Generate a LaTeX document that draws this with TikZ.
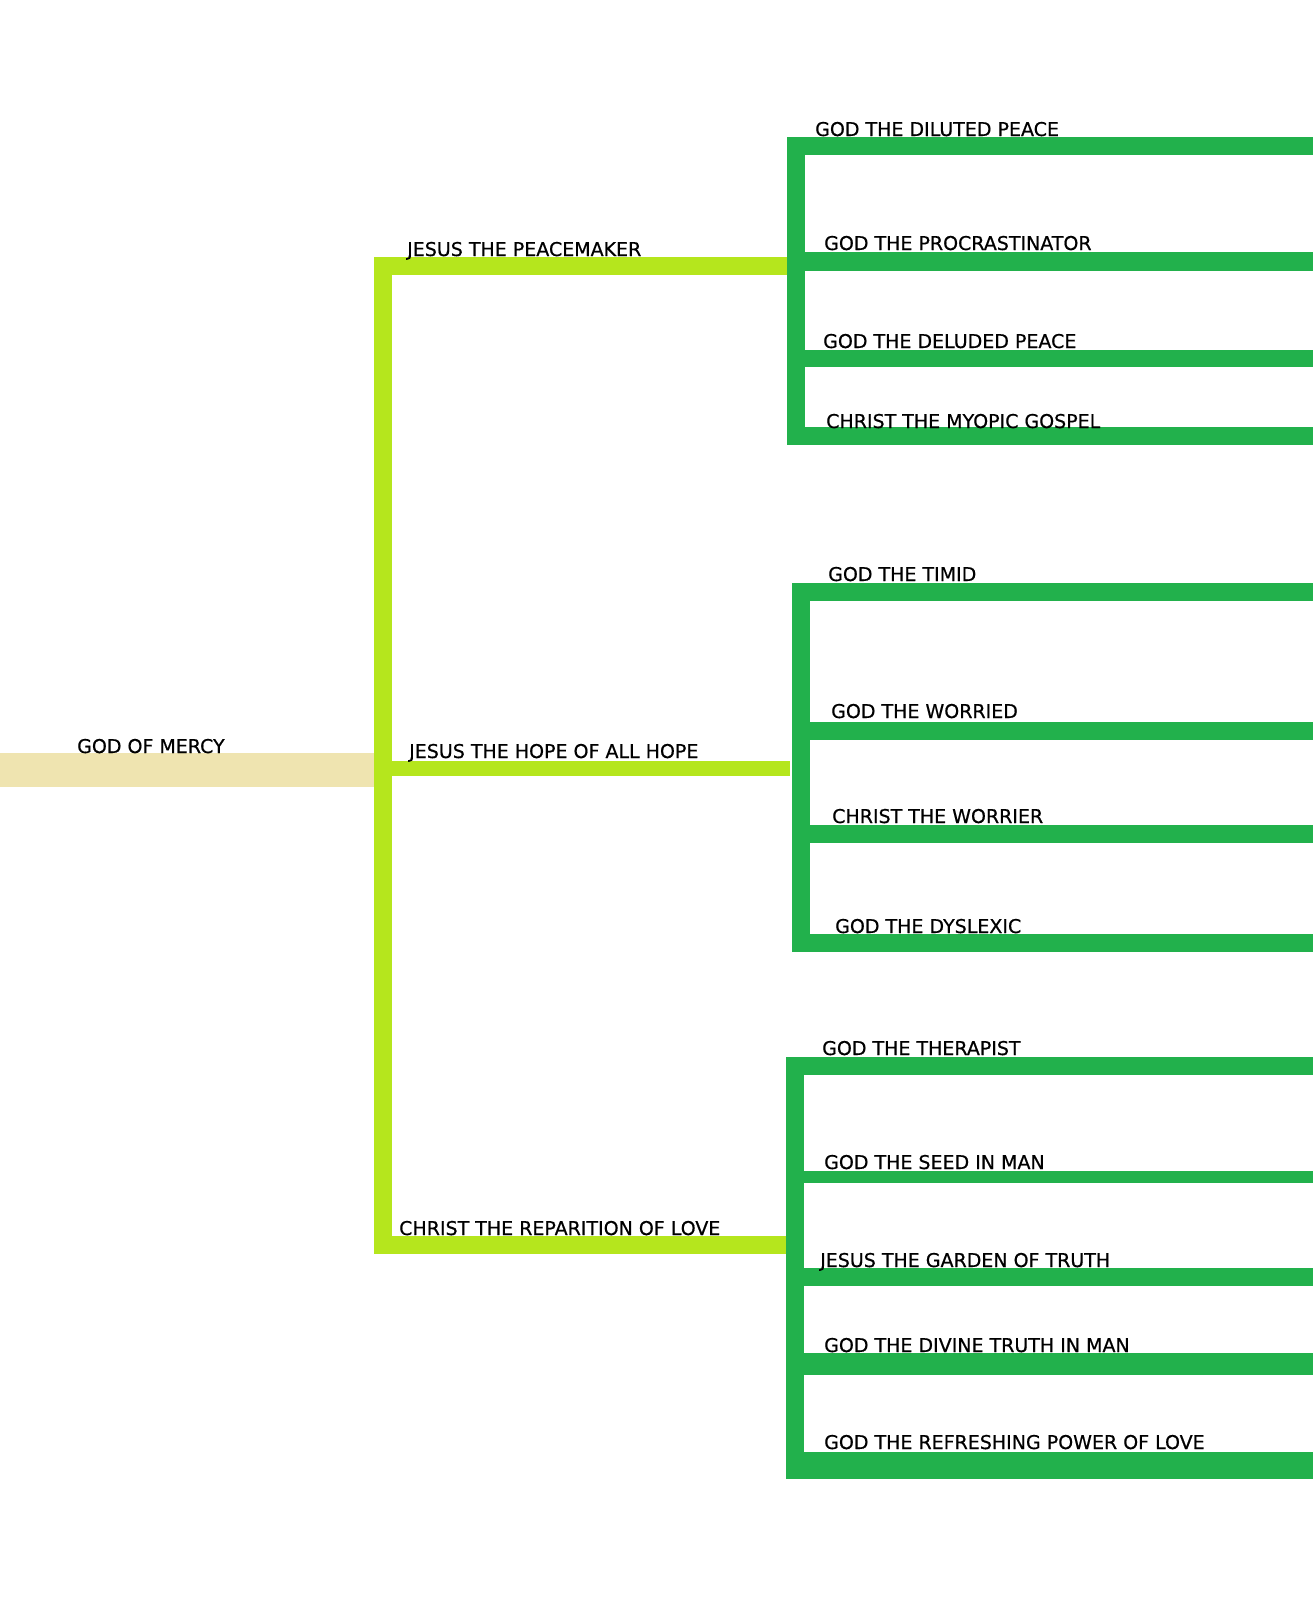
\documentclass[tikz,border=0pt]{standalone}
\usepackage{fontspec}
\setmainfont{DejaVu Sans}
\newfontfamily\lblfont{DejaVu Sans}[FakeBold=0.6]
\definecolor{rootTan}{HTML}{EFE4B0}
\definecolor{branchLime}{HTML}{B5E61D}
\definecolor{leafGreen}{HTML}{22B14C}
\begin{document}
\begin{tikzpicture}[x=1pt,y=-1pt,
    lbl/.style={anchor=base west,inner sep=0pt,font=\lblfont\fontsize{19}{22}\selectfont},
    rootbar/.style={rootTan,line width=34pt},
    branchbar/.style={branchLime,line width=18pt,line join=miter},
    leafbar/.style={leafGreen,line width=18pt,line join=miter}]
    \useasboundingbox (0,0) rectangle (1313,1600);
    % hubs and bar ends
    \coordinate (root) at (0,770);
    \coordinate (trunk) at (382.5,770);
    \coordinate (edge) at (1313,0);
    \coordinate (b1) at (787,266);
    \coordinate (b2) at (790,768);
    \coordinate (b3) at (787,1245);
    \coordinate (l11) at (796,146);
    \coordinate (l12) at (796,261.5);
    \coordinate (l13) at (796,358.5);
    \coordinate (l14) at (796,435.5);
    \coordinate (l21) at (801,592);
    \coordinate (l22) at (801,731);
    \coordinate (l23) at (801,834);
    \coordinate (l24) at (801,942.5);
    \coordinate (l31) at (795,1066);
    \coordinate (l32) at (795,1177);
    \coordinate (l33) at (795,1277);
    \coordinate (l34) at (795,1364);
    \coordinate (l35) at (795,1465.5);
    % bars
    \draw[rootbar] (root) -- (trunk);
    \draw[branchbar] (b1) -| (trunk) |- (b3);
    \draw[branchbar,line width=15pt] (trunk |- b2) -- (b2);
    \draw[leafbar] (l11 -| edge) -- (l11) -- (l14) -- (l14 -| edge);
    \draw[leafbar,line width=19pt] (l12) -- (l12 -| edge);
    \draw[leafbar,line width=17pt] (l13) -- (l13 -| edge);
    \draw[leafbar] (l21 -| edge) -- (l21) -- (l24) -- (l24 -| edge);
    \draw[leafbar] (l22) -- (l22 -| edge);
    \draw[leafbar] (l23) -- (l23 -| edge);
    \draw[leafbar] (l31 -| edge) -- (l31) -- (l35) -- (l35 -| edge);
    \draw[leafbar,line width=12pt] (l32) -- (l32 -| edge);
    \draw[leafbar] (l33) -- (l33 -| edge);
    \draw[leafbar,line width=22pt] (l34) -- (l34 -| edge);
    \draw[leafbar,line width=27pt] ([xshift=-9pt]l35) -- (l35 -| edge);
    % labels
    \node[lbl] (mercy) at (77,753) {GOD OF MERCY};
    \node[lbl] (peacemaker) at (407,256) {JESUS THE PEACEMAKER};
    \node[lbl] (hope) at (409,758) {JESUS THE HOPE OF ALL HOPE};
    \node[lbl] (reparition) at (399,1235) {CHRIST THE REPARITION OF LOVE};
    \node[lbl] (diluted) at (815,136) {GOD THE DILUTED PEACE};
    \node[lbl] (procrast) at (824,250) {GOD THE PROCRASTINATOR};
    \node[lbl] (deluded) at (823,348) {GOD THE DELUDED PEACE};
    \node[lbl] (myopic) at (826,428) {CHRIST THE MYOPIC GOSPEL};
    \node[lbl] (timid) at (828,581) {GOD THE TIMID};
    \node[lbl] (worried) at (831,718) {GOD THE WORRIED};
    \node[lbl] (worrier) at (832,823) {CHRIST THE WORRIER};
    \node[lbl] (dyslexic) at (835,933) {GOD THE DYSLEXIC};
    \node[lbl] (therapist) at (822,1055) {GOD THE THERAPIST};
    \node[lbl] (seed) at (824,1169) {GOD THE SEED IN MAN};
    \node[lbl] (garden) at (820,1267) {JESUS THE GARDEN OF TRUTH};
    \node[lbl] (divine) at (824,1352) {GOD THE DIVINE TRUTH IN MAN};
    \node[lbl] (refreshing) at (824,1449) {GOD THE REFRESHING POWER OF LOVE};
\end{tikzpicture}
\end{document}
